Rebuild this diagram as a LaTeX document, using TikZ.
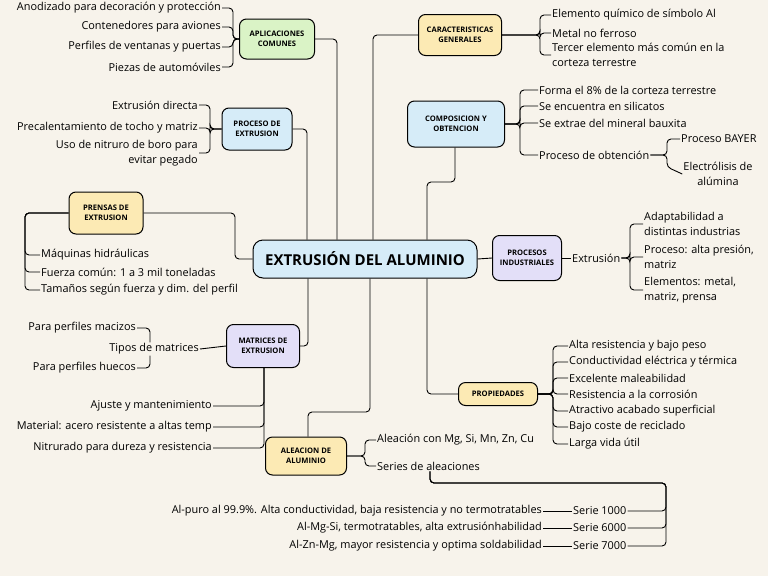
\documentclass[tikz,border=0pt]{standalone}
\usepackage{fontspec}
\setmainfont{Open Sans}
\usetikzlibrary{positioning}
\definecolor{bgc}{HTML}{F7F3EB}
\definecolor{cblue}{HTML}{D6ECF8}
\definecolor{cgreen}{HTML}{DAF3C6}
\definecolor{cyell}{HTML}{FCEAB4}
\definecolor{clav}{HTML}{E3DFF8}
\tikzset{
  box/.style={draw, line width=1pt, rounded corners=7pt, align=center, inner sep=2pt,
    font=\fontsize{7.6}{10}\selectfont\bfseries},
  leaf/.style={inner sep=1pt, font=\fontsize{10.9}{15}\selectfont},
  br/.style={line width=0.9pt, rounded corners=4pt},
}
\begin{document}
\begin{tikzpicture}[x=1pt,y=-1pt]
\fill[bgc] (0,0) rectangle (768,576);
\useasboundingbox (0,0) rectangle (768,576);

% main topic and branches
\node[box, fill=cblue, minimum width=224pt, minimum height=38pt, rounded corners=10pt,
  font=\fontsize{15}{17}\selectfont\bfseries] (tit) at (365,259) {EXTRUSIÓN DEL ALUMINIO};
\node[box, fill=cgreen, minimum width=75pt, minimum height=40pt] (apl) at (277,39) {APLICACIONES\\COMUNES};
\node[box, fill=cblue, minimum width=70pt, minimum height=42pt] (pex) at (257,129) {PROCESO DE\\EXTRUSION};
\node[box, fill=cyell, minimum width=74pt, minimum height=42pt] (pre) at (106,213) {PRENSAS DE\\EXTRUSION};
\node[box, fill=clav, minimum width=73pt, minimum height=43pt] (mat) at (263,346) {MATRICES DE\\EXTRUSION};
\node[box, fill=cyell, minimum width=81pt, minimum height=38pt] (ale) at (306,456) {ALEACION DE\\ALUMINIO};
\node[box, fill=cyell, minimum width=83pt, minimum height=41pt] (car) at (460,35) {CARACTERISTICAS\\GENERALES};
\node[box, fill=cblue, minimum width=97pt, minimum height=46pt] (com) at (456,124) {COMPOSICION Y\\OBTENCION};
\node[box, fill=clav, minimum width=69pt, minimum height=45pt] (pin) at (527,258) {PROCESOS\\INDUSTRIALES};
\node[box, fill=cyell, minimum width=79pt, minimum height=23pt] (prp) at (498,394) {PROPIEDADES};

\draw[br] (tit.north -| 337,0) |- (apl.east);
\draw[br] (tit.north -| 307,0) |- (pex.east);
\draw[br] (tit.west) -| (235,213) -- (pre.east);
\draw[br] (tit.south -| 308,0) |- (mat.east);
\draw[br] (tit.south -| 370,0) |- (308,412) -- (ale.north -| 308,0);
\draw[br] (tit.north -| 373,0) |- (car.west);
\draw[br] (tit.north -| 427,0) |- (455,182) -- (com.south -| 455,0);
\draw[br] (tit.east) -- (pin.west);
\draw[br] (tit.south -| 427,0) |- (prp.west);

% aplicaciones
\foreach \t/\y [count=\i] in {Anodizado para decoración y protección/8, Contenedores para aviones/27,
  Perfiles de ventanas y puertas/47, Piezas de automóviles/67}{
  \node[leaf, anchor=east] (ap\i) at (222,\y) {\t};
  \draw[br] (apl.west) -| (233,\y) -- (ap\i.east);
}
% proceso de extrusion
\node[leaf, anchor=east] (px1) at (199,105) {Extrusión directa};
\node[leaf, anchor=east] (px2) at (199,128) {Precalentamiento de tocho y matriz};
\node[leaf, anchor=east, align=right] (px3) at (199,153) {Uso de nitruro de boro para\\evitar pegado};
\foreach \i in {1,2,3} \draw[br] (pex.west) -| (210,0 |- px\i.east) -- (px\i.east);
% prensas
\foreach \t/\y [count=\i] in {Máquinas hidráulicas/255, Fuerza común: 1 a 3 mil toneladas/272,
  Tamaños según fuerza y dim. del perfil/290}{
  \node[leaf, anchor=west] (pr\i) at (40,\y) {\t};
  \draw[br] (pre.west) -| (25,\y) -- (pr\i.west);
}
% matrices
\node[leaf, anchor=east] (tm) at (200,349) {Tipos de matrices};
\draw[br] (mat.west) -- (tm.east);
\node[leaf, anchor=east] (tm1) at (137,328) {Para perfiles macizos};
\node[leaf, anchor=east] (tm2) at (137,368) {Para perfiles huecos};
\draw[br] (tm1.east) -| (150,0 |- tm.north);
\draw[br] (tm2.east) -| (150,0 |- tm.south);
\foreach \t/\y [count=\i] in {Ajuste y mantenimiento/406, Material: acero resistente a altas temp/427,
  Nitrurado para dureza y resistencia/448}{
  \node[leaf, anchor=east] (mt\i) at (213,\y) {\t};
  \draw[br] (mat.south -| 264,0) |- (mt\i.east);
}
% aleacion
\node[leaf, anchor=west] (al1) at (376,440) {Aleación con Mg, Si, Mn, Zn, Cu};
\node[leaf, anchor=west] (al2) at (376,466) {Series de aleaciones};
\foreach \i in {1,2} \draw[br] (ale.east) -| (365,0 |- al\i.west) -- (al\i.west);
\foreach \s/\d/\y [count=\i] in {
  Serie 1000/{Al-puro al 99.9\%. Alta conductividad, baja resistencia y no termotratables}/511,
  Serie 6000/{Al-Mg-Si, termotratables, alta extrusiónhabilidad}/528,
  Serie 7000/{Al-Zn-Mg, mayor resistencia y optima soldabilidad}/546}{
  \node[leaf, anchor=west] (se\i) at (572,\y) {\s};
  \node[leaf, anchor=east] (sd\i) at (543,\y) {\d};
  \draw[br] (al2.south -| 430,0) |- (666,483) |- (se\i.east);
  \draw[br] (se\i.west) -- (sd\i.east);
}
% caracteristicas
\node[leaf, anchor=west] (ca1) at (551,15) {Elemento químico de símbolo Al};
\node[leaf, anchor=west] (ca2) at (551,33) {Metal no ferroso};
\node[leaf, anchor=west, align=left] (ca3) at (551,55) {Tercer elemento más común en la\\corteza terrestre};
\foreach \i in {1,2,3} \draw[br] (car.east) -| (540,0 |- ca\i.west) -- (ca\i.west);
% composicion
\foreach \t/\y [count=\i] in {Forma el 8\% de la corteza terrestre/90, Se encuentra en silicatos/106,
  Se extrae del mineral bauxita/123, Proceso de obtención/155}{
  \node[leaf, anchor=west] (co\i) at (538,\y) {\t};
  \draw[br] (com.east) -| (520,\y) -- (co\i.west);
}
\node[leaf, anchor=west] (ob1) at (680,139) {Proceso BAYER};
\node[leaf, align=center] (ob2) at (718,174) {Electrólisis de\\alúmina};
\draw[br] (co4.east) -| (667,139) -- (ob1.west);
\draw[br] (co4.east) -| (667,167) -- (ob2.west);
% procesos industriales
\node[leaf, anchor=west] (ex) at (571,258) {Extrusión};
\draw[br] (pin.east) -- (ex.west);
\foreach \t/\y [count=\i] in {Adaptabilidad a\\distintas industrias/224, {Proceso: alta presión,\\matriz}/257,
  {Elementos: metal,\\matriz, prensa}/290}{
  \node[leaf, anchor=west, align=left] (pi\i) at (643,\y) {\t};
  \draw[br] (ex.east) -| (630,\y) -- (pi\i.west);
}
% propiedades
\foreach \t/\y [count=\i] in {Alta resistencia y bajo peso/346, Conductividad eléctrica y térmica/362,
  Excelente maleabilidad/378, Resistencia a la corrosión/394, Atractivo acabado superficial/411,
  Bajo coste de reciclado/427, Larga vida útil/444}{
  \node[leaf, anchor=west] (pp\i) at (568,\y) {\t};
  \draw[br] (prp.east) -| (553,\y) -- (pp\i.west);
}
\end{tikzpicture}
\end{document}
